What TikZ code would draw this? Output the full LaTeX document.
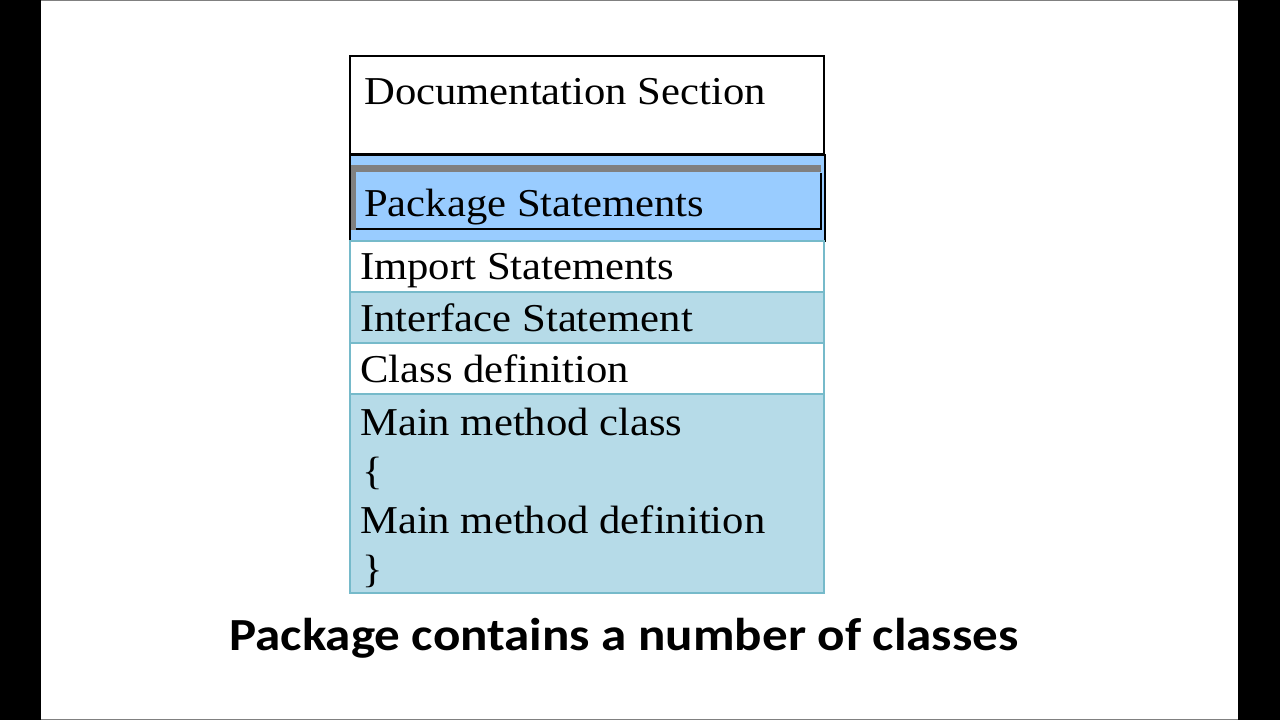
\documentclass[tikz,border=0pt]{standalone}
\usepackage{fontspec}
\setmainfont{Liberation Serif}
\newfontfamily\captionfont{Carlito}
\definecolor{pkgblue}{RGB}{153,204,255}
\definecolor{rowblue}{RGB}{182,219,232}
\definecolor{rowline}{RGB}{118,186,202}
\definecolor{bevel}{RGB}{128,128,128}
\tikzset{
    rowtext/.style={anchor=base west, inner sep=0pt, xscale=1.08, font=\fontsize{39.5}{49}\selectfont},
    rowbox/.style={draw=rowline, line width=1.2pt},
}
\begin{document}
\begin{tikzpicture}[x=1pt, y=-1pt]

    \useasboundingbox (0,0) rectangle (1280,720);
    \fill[black] (0,0) rectangle (41,720);
    \fill[black] (1238,0) rectangle (1280,720);
    \draw[bevel, line width=1pt] (41,0.5) -- (1238,0.5);
    \draw[bevel, line width=1pt] (41,719.5) -- (1238,719.5);

    \draw[line width=1.3pt] (350,56) rectangle (824,154);
    \node[rowtext] (doc) at (364,104) {Documentation Section};

    \draw[fill=pkgblue, line width=1.3pt] (350,155) rectangle (825,241);
    \fill[bevel] (351,165) rectangle (821,172);
    \fill[bevel] (351,165) rectangle (356,230);
    \draw[line width=1.4pt] (356,229) -- (821,229) -- (821,173);
    \node[rowtext] (pkg) at (364,216) {Package Statements};

    \draw[rowbox, fill=white] (350,241) rectangle (824,292);
    \node[rowtext] (imp) at (360,279) {Import Statements};

    \draw[rowbox, fill=rowblue] (350,292) rectangle (824,343);
    \node[rowtext] (intf) at (360,331) {Interface Statement};

    \draw[rowbox, fill=white] (350,343) rectangle (824,394);
    \node[rowtext] (cls) at (360,382) {Class definition};

    \draw[rowbox, fill=rowblue] (350,394) rectangle (824,593);
    \node[rowtext] (mainhead) at (360,435) {Main method class};
    \node[rowtext] (mainopen) at (362,484) {\{};
    \node[rowtext] (maindef) at (360,533) {Main method definition};
    \node[rowtext] (mainclose) at (362,582) {\}};

    \node[font=\captionfont\bfseries\fontsize{46}{52}\selectfont, xscale=1.11, anchor=base] (caption) at (624,650) {Package contains a number of classes};

\end{tikzpicture}
\end{document}
